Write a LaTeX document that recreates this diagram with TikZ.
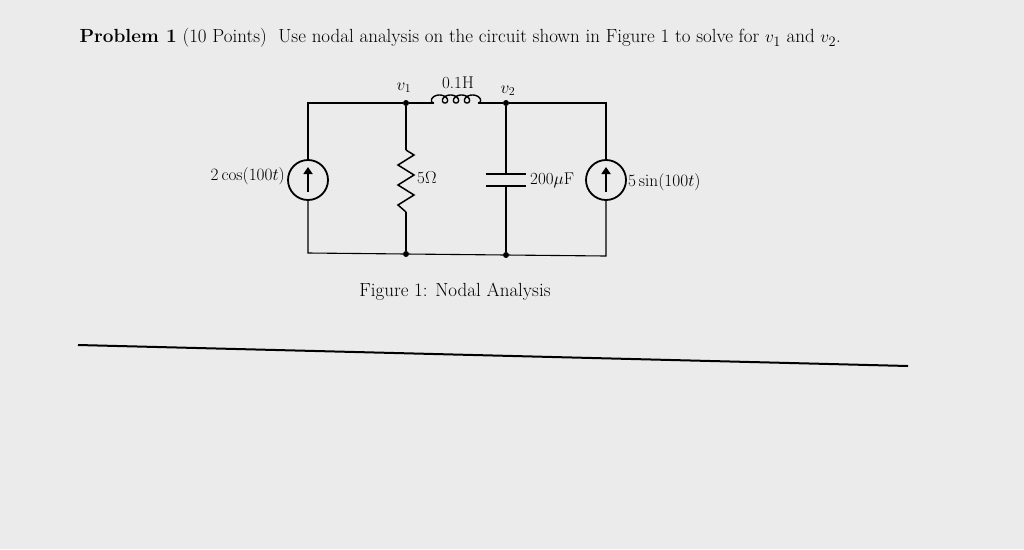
\documentclass[tikz,border=0pt]{standalone}
\usetikzlibrary{arrows.meta}
\begin{document}
\begin{tikzpicture}[x=1pt,y=-1pt,
  wire/.style={line width=1.1pt,draw=black},
  src/.style={circle,draw=black,line width=1.8pt,minimum size=40pt,inner sep=0pt},
  dot/.style={circle,fill=black,inner sep=0pt,minimum size=6pt},
  lbl/.style={font=\fontsize{17}{19}\selectfont,inner sep=1pt}]
\fill[black!8] (0,0) rectangle (1024,549);
\useasboundingbox (0,0) rectangle (1024,549);
\node[anchor=west,font=\fontsize{19}{22}\selectfont] (title) at (76,38)
 {\textbf{Problem 1} (10 Points)\ \ Use nodal analysis on the circuit shown in Figure 1 to solve for $v_1$ and $v_2$.};
% corners & nodes
\coordinate (tl) at (308,103); \coordinate (bl) at (308,253);
\coordinate (tr) at (606,103); \coordinate (br) at (606,256);
\node[dot] (n1) at (406,103) {}; \node[dot] (n2) at (506,103) {};
\node[dot] (b1) at (406,254) {}; \node[dot] (b2) at (506,255) {};
\node[src] (s1) at (308,180) {}; \node[src] (s2) at (606,180) {};
\coordinate (lA) at (434,103); \coordinate (lB) at (478,103);
\coordinate (rA) at (406,150); \coordinate (rB) at (406,212);
\coordinate (cA) at (506,174); \coordinate (cB) at (506,186);
% wires
\draw[wire] (s1) -- (tl) -- (n1) -- (lA);
\draw[wire] (lB) -- (n2) -- (tr) -- (s2);
\draw[wire] (s1) -- (bl) -- (b1) -- (b2) -- (br) -- (s2);
\draw[wire] (n1) -- (rA); \draw[wire] (rB) -- (b1);
\draw[wire] (n2) -- (cA); \draw[wire] (cB) -- (b2);
% inductor
\draw[wire,line width=1.4pt] plot[domain=0:1440,samples=200,smooth]
  ({434+\x/1440*44-5*sin(\x)},{103-4*(1-cos(\x))});
% resistor
\draw[wire,line width=1.5pt] (rA) -- ++(8,5) -- ++(-16,10) -- ++(16,10) -- ++(-16,10) -- ++(16,10) -- ++(-16,10) -- (rB);
% capacitor
\draw[line width=1.6pt] (486,174) -- (526,174);
\draw[line width=1.6pt] (486,186) -- (526,186);
% source arrows
\foreach \s in {s1,s2}{
  \draw[line width=2pt,-{Triangle[length=7pt,width=9pt]}] ([yshift=-12pt]\s.center) -- ([yshift=13pt]\s.center);
}
% labels
\node[lbl,anchor=south] (lv1) at (404,94) {$v_1$};
\node[lbl,anchor=south] (lv2) at (508,97) {$v_2$};
\node[lbl,anchor=south] (lL) at (458,90) {0.1H};
\node[lbl,anchor=west] (lR) at (416,178) {5$\Omega$};
\node[lbl,anchor=west] (lC) at (529,180) {200$\mu$F};
\node[lbl,anchor=east] (lS1) at (286,176) {$2\cos(100t)$};
\node[lbl,anchor=west] (lS2) at (627,182) {$5\sin(100t)$};
\node[font=\fontsize{19}{22}\selectfont] (cap) at (455,292) {Figure 1: Nodal Analysis};
% rule
\coordinate (r1) at (78,345); \coordinate (r2) at (908,366);
\draw[line width=2pt] (r1) -- (r2);
\end{tikzpicture}
\end{document}
